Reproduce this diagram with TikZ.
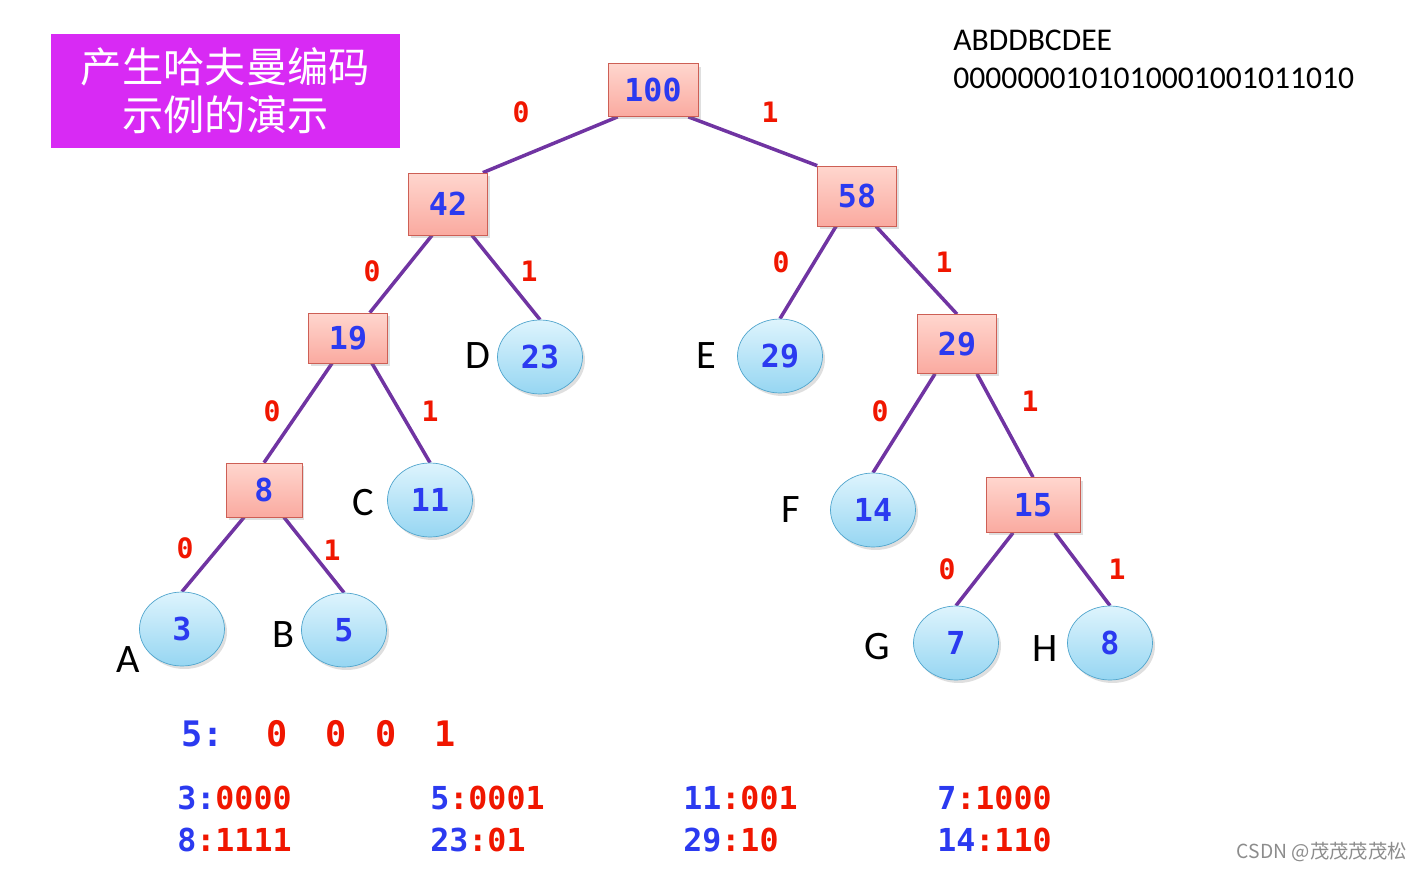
\documentclass[tikz,border=0pt]{standalone}
\usepackage{fontspec}
\setmainfont{Carlito}
\newfontfamily\codefont{DejaVu Sans Mono}
\newfontfamily\cjk{Noto Sans CJK SC}
\usepackage{tikz}
\usetikzlibrary{shapes,shadows,backgrounds}
\definecolor{numblue}{RGB}{43,58,240}
\definecolor{bitred}{RGB}{240,22,0}
\definecolor{edgepurple}{RGB}{112,52,162}
\definecolor{boxtop}{RGB}{255,214,206}
\definecolor{boxbot}{RGB}{250,170,160}
\definecolor{boxline}{RGB}{205,95,85}
\definecolor{leaftop}{RGB}{222,244,253}
\definecolor{leafbot}{RGB}{150,214,242}
\definecolor{leafline}{RGB}{80,165,205}
\definecolor{titlemag}{RGB}{216,42,244}

\tikzset{
  inner/.style={draw=boxline, top color=boxtop, bottom color=boxbot,
    minimum width=1.58cm, inner sep=0pt, text=numblue,
    font=\codefont\bfseries\fontsize{18}{20}\selectfont,
    drop shadow={shadow xshift=0.05cm, shadow yshift=-0.06cm, opacity=0.25}},
  leaf/.style={ellipse, draw=leafline, top color=leaftop, bottom color=leafbot,
    minimum width=1.7cm, minimum height=1.48cm, inner sep=0pt, text=numblue,
    font=\codefont\bfseries\fontsize{18}{20}\selectfont,
    drop shadow={shadow xshift=0.05cm, shadow yshift=-0.06cm, opacity=0.25}},
  edge/.style={edgepurple, line width=2pt},
  bit/.style={text=bitred, inner sep=0pt, font=\codefont\bfseries\fontsize{16}{18}\selectfont},
  letter/.style={inner sep=0pt, font=\fontsize{23}{26}\selectfont},
  code/.style={anchor=west, inner sep=0pt, text=bitred,
    font=\codefont\bfseries\fontsize{18}{20}\selectfont}
}

\begin{document}
\begin{tikzpicture}[x=0.02cm,y=-0.02cm]
\useasboundingbox (0,0) rectangle (1423,871);

% title
\node[fill=titlemag, minimum width=6.98cm, minimum height=2.28cm, align=center,
  text=white, font=\cjk\fontsize{23.5}{27.5}\selectfont] (title) at (225.5,91)
  {产生哈夫曼编码\\示例的演示};

% message and its code
\node[anchor=west, inner sep=0pt, font=\fontsize{18}{20}\selectfont] (msg) at (953,40) {ABDDBCDEE};
\node[anchor=west, inner sep=0pt, font=\fontsize{18}{20}\selectfont] (msgbits) at (953,78) {0000000101010001001011010};

% inner nodes
\node[inner, minimum width=1.8cm, minimum height=1.06cm] (n100) at (653,90) {100};
\node[inner, minimum height=1.24cm] (n42) at (448,204) {42};
\node[inner, minimum height=1.2cm] (n58) at (857,196) {58};
\node[inner, minimum height=1.0cm] (n19) at (348,338) {19};
\node[inner, minimum height=1.18cm] (n29b) at (957,344) {29};
\node[inner, minimum width=1.52cm, minimum height=1.08cm] (n8b) at (264,490) {8};
\node[inner, minimum width=1.88cm, minimum height=1.1cm] (n15) at (1033,505) {15};

% leaves
\node[leaf] (n23) at (540,357) {23};
\node[leaf] (n29a) at (780,356) {29};
\node[leaf] (n11) at (430,500) {11};
\node[leaf] (n14) at (873,510) {14};
\node[leaf] (n3) at (182,629) {3};
\node[leaf] (n5) at (344,630) {5};
\node[leaf] (n7) at (956,643) {7};
\node[leaf] (n8a) at (1110,643) {8};

% edges
\begin{scope}[on background layer]
\draw[edge] ([shift={(10,0)}]n100.south west) -- ([shift={(-5,0)}]n42.north east);
\draw[edge] ([shift={(-10,0)}]n100.south east) -- (n58.north west);
\draw[edge] ([shift={(-16,0)}]n42.south) -- ([shift={(-18,0)}]n19.north east);
\draw[edge] ([shift={(24,0)}]n42.south) -- (n23.north);
\draw[edge] ([shift={(-21,0)}]n58.south) -- (n29a.north);
\draw[edge] ([shift={(19,0)}]n58.south) -- (n29b.north);
\draw[edge] ([shift={(-16,0)}]n19.south) -- (n8b.north);
\draw[edge] ([shift={(24,0)}]n19.south) -- (n11.north);
\draw[edge] ([shift={(-22,0)}]n29b.south) -- (n14.north);
\draw[edge] ([shift={(20,0)}]n29b.south) -- (n15.north);
\draw[edge] ([shift={(-20,0)}]n8b.south) -- (n3.north);
\draw[edge] ([shift={(20,0)}]n8b.south) -- (n5.north);
\draw[edge] ([shift={(-20,0)}]n15.south) -- (n7.north);
\draw[edge] ([shift={(22,0)}]n15.south) -- (n8a.north);
\end{scope}

% edge labels
\node[bit] (b100l) at (521,112) {0};
\node[bit] (b100r) at (770,112) {1};
\node[bit] (b42l) at (372,271) {0};
\node[bit] (b42r) at (529,271) {1};
\node[bit] (b58l) at (781,262) {0};
\node[bit] (b58r) at (944,262) {1};
\node[bit] (b19l) at (272,411) {0};
\node[bit] (b19r) at (430,411) {1};
\node[bit] (b29l) at (880,411) {0};
\node[bit] (b29r) at (1030,401) {1};
\node[bit] (b8l) at (185,548) {0};
\node[bit] (b8r) at (332,550) {1};
\node[bit] (b15l) at (947,569) {0};
\node[bit] (b15r) at (1117,569) {1};

% letters
\node[letter] (lA) at (128,660) {A};
\node[letter] (lB) at (283,635) {B};
\node[letter] (lC) at (363,503) {C};
\node[letter] (lD) at (478,356) {D};
\node[letter] (lE) at (706,356) {E};
\node[letter] (lF) at (791,510) {F};
\node[letter] (lG) at (877,647) {G};
\node[letter] (lH) at (1045,649) {H};

% worked example for 5
\node[code, text=numblue, font=\codefont\bfseries\fontsize{20}{22}\selectfont] (w5) at (181,734) {5:};
\node[code, font=\codefont\bfseries\fontsize{20}{22}\selectfont] (w1) at (266,734) {0};
\node[code, font=\codefont\bfseries\fontsize{20}{22}\selectfont] (w2) at (325,734) {0};
\node[code, font=\codefont\bfseries\fontsize{20}{22}\selectfont] (w3) at (375,734) {0};
\node[code, font=\codefont\bfseries\fontsize{20}{22}\selectfont] (w4) at (434,734) {1};

% code table
\node[code] (c3) at (177,798) {\textcolor{numblue}{3:}0000};
\node[code] (c8) at (177,840) {\textcolor{numblue}{8}:1111};
\node[code] (c5) at (430,798) {\textcolor{numblue}{5}:0001};
\node[code] (c23) at (430,840) {\textcolor{numblue}{23}:01};
\node[code] (c11) at (683,798) {\textcolor{numblue}{11}:001};
\node[code] (c29) at (683,840) {\textcolor{numblue}{29}:10};
\node[code] (c7) at (937,798) {\textcolor{numblue}{7}:1000};
\node[code] (c14) at (937,840) {\textcolor{numblue}{14}:110};

% watermark
\node[anchor=east, inner sep=0pt, text=black!45, font=\cjk\fontsize{11}{13}\selectfont] (mark) at (1407,852) {CSDN @茂茂茂茂松};
\end{tikzpicture}
\end{document}
